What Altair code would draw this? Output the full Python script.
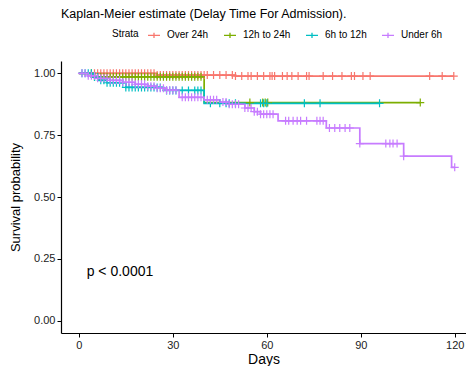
import altair as alt
import pandas as pd

FONT = "Liberation Sans"

strata = ["Over 24h", "12h to 24h", "6h to 12h", "Under 6h"]
colors = ["#F8766D", "#7CAE00", "#00BFC4", "#C77CFF"]

# step curves: (day, survival)
over24_t = [0, 25, 50, 119.7]
over24_s = [1.0, 0.993, 0.989, 0.989]
h12_24_t = [0, 5, 40, 109]
h12_24_s = [1.0, 0.986, 0.882, 0.882]
h6_12_t = [0, 4.5, 6.5, 9, 15, 27, 40, 96]
h6_12_s = [1.0, 0.985, 0.972, 0.962, 0.943, 0.931, 0.879, 0.879]
u6_t = [0, 3, 6, 10, 14, 18, 22, 25, 28, 32, 40, 45, 48, 53, 56, 58, 63.6, 79, 89.7, 103.7, 119, 120]
u6_s = [1.0, 0.99, 0.98, 0.972, 0.964, 0.956, 0.948, 0.94, 0.932, 0.903, 0.893, 0.884, 0.875,
        0.86, 0.845, 0.835, 0.808, 0.779, 0.716, 0.665, 0.62, 0.62]

# censoring times
over24_c = [5, 6, 7, 8, 9, 10, 11, 12, 13, 14, 15, 16, 17, 18, 19, 20, 21, 22, 23, 24, 25, 26, 27,
            28, 29, 30, 31, 32, 33, 34, 35, 36, 37, 38, 39, 40, 41, 43, 45, 47, 49, 50, 52, 54, 55,
            57, 59, 61, 61.7, 62.5, 65, 66.5, 68, 70, 72.7, 73.5, 78, 81, 84, 87, 88, 90.7, 93,
            112, 116, 119.7]
h12_24_c = [4, 5, 6, 7, 8, 9, 10, 11, 12, 13, 14, 15, 16, 17, 18, 19, 20, 21, 22, 23, 24, 25, 26,
            27, 28, 29, 30, 31, 32, 33, 34, 35, 36, 37, 38, 39, 54.6, 58.7, 59.5, 60.3, 109]
h6_12_c = [1, 2, 3, 4, 5, 6, 7, 8, 9, 10, 11, 12, 13, 14, 15, 16, 17, 18, 19, 20, 21, 22, 23, 24,
           25, 26, 28, 29, 30, 31, 33, 35, 37, 38, 39, 42, 45, 47, 48, 50, 58, 59, 60, 72, 77, 96]
u6_c = [1, 2, 3, 4, 5, 6, 7, 8, 9, 10, 11, 12, 13, 14, 15, 16, 17, 18, 19, 20, 21, 22, 23, 24, 25,
        26, 27, 28, 29, 30, 31, 33, 34, 35, 36, 37, 38, 39, 41, 42, 43, 44, 46, 47, 48, 49, 50, 51,
        53, 54, 55, 56, 57, 58, 59, 60, 61, 62, 66, 67, 68.4, 69.7, 70.8, 72.7, 76, 77, 78, 80,
        81.7, 83.3, 85, 86.5, 89.7, 98, 99.3, 100.3, 101.6, 103.7, 120]

x_ticks = [0, 30, 60, 90, 120]
y_ticks = [0.0, 0.25, 0.5, 0.75, 1.0]

curves = {
    "Over 24h": (over24_t, over24_s, over24_c),
    "12h to 24h": (h12_24_t, h12_24_s, h12_24_c),
    "6h to 12h": (h6_12_t, h6_12_s, h6_12_c),
    "Under 6h": (u6_t, u6_s, u6_c),
}


def surv_at(ts, ss, t):
    val = ss[0]
    for ti, si in zip(ts, ss):
        if ti <= t:
            val = si
    return val


line_rows, cens_rows = [], []
for g in strata:
    ts, ss, cs = curves[g]
    for t, s in zip(ts, ss):
        line_rows.append({"strata": g, "day": t, "surv": s})
    for c in cs:
        cens_rows.append({"strata": g, "day": c, "surv": surv_at(ts, ss, c)})
line_df = pd.DataFrame(line_rows)
cens_df = pd.DataFrame(cens_rows)

PLUS = "M-1,0L1,0M0,-1L0,1"
LEG = "M-1,0L1,0M0,-0.45L0,0.45"

xs = alt.X("day:Q", scale=alt.Scale(domain=[-5.7, 123.6], nice=False, zero=False),
           axis=alt.Axis(values=x_ticks, title="Days", format="d"))
ys = alt.Y("surv:Q", scale=alt.Scale(domain=[-0.05, 1.05], nice=False, zero=False),
           axis=alt.Axis(values=y_ticks, title="Survival probability", format=".2f"))
cscale = alt.Scale(domain=strata, range=colors)

lines = alt.Chart(line_df).mark_line(interpolate="step-after", strokeWidth=1.7).encode(
    x=xs, y=ys,
    color=alt.Color("strata:N", scale=cscale, sort=strata, title="Strata",
                    legend=alt.Legend(orient="none", legendX=51, legendY=-33, direction="horizontal",
                                      titleOrient="left", symbolType=LEG, symbolSize=144,
                                      symbolStrokeWidth=1.3, titleFontSize=10, labelFontSize=10,
                                      titleFont=FONT, labelFont=FONT, titleFontWeight="normal",
                                      titleColor="black", labelColor="black", columnPadding=12,
                                      titlePadding=8, labelOffset=6)),
)

cens = alt.Chart(cens_df).mark_point(shape=PLUS, size=64, filled=False, strokeWidth=1.2, opacity=1).encode(
    x="day:Q", y="surv:Q",
    color=alt.Color("strata:N", scale=cscale, legend=None),
)

ptxt = alt.Chart(pd.DataFrame({"day": [2.5], "surv": [0.198], "label": ["p < 0.0001"]})).mark_text(
    align="left", baseline="middle", fontSize=14, font=FONT, color="black"
).encode(x="day:Q", y="surv:Q", text="label:N")

title_txt = alt.Chart(pd.DataFrame({"label": ["Kaplan-Meier estimate (Delay Time For Admission)."]})).mark_text(
    align="left", baseline="alphabetic", fontSize=12.5, font=FONT, color="black"
).encode(x=alt.value(0), y=alt.value(-43), text="label:N")

chart = alt.layer(lines, cens, ptxt, title_txt).properties(
    width=405, height=272,
    autosize=alt.AutoSizeParams(type="none"),
    padding={"left": 53, "top": 53, "right": 0, "bottom": 33},
).configure_view(stroke=None).configure_axis(
    grid=False, domainColor="black", domainWidth=1.2, tickColor="black", tickSize=4, tickWidth=1,
    labelFont=FONT, titleFont=FONT, labelFontSize=11, labelColor="#222222", titleColor="black",
    titleFontWeight="normal", titleFontSize=14, labelPadding=2,
).configure_axisY(titlePadding=11, titleFontSize=13).configure_axisX(titlePadding=2)

chart.save("out.html", embed_options={"renderer": "svg", "actions": False})
